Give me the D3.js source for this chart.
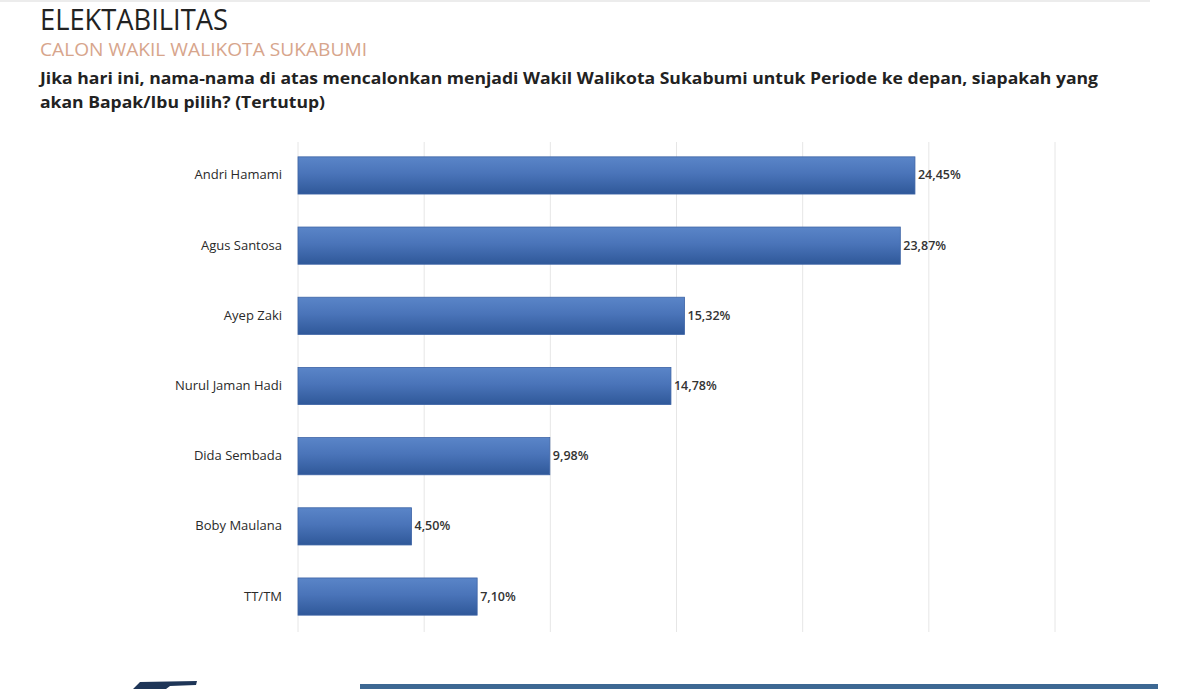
<!DOCTYPE html>
<html>
<head>
<meta charset="utf-8">
<script src="https://cdn.jsdelivr.net/npm/d3@7"></script>
<style>
  body { margin: 0; background: #fff; }
  svg { display: block; }
</style>
</head>
<body>
<svg id="chart" width="1200" height="689"></svg>
<script>
// ---------------- data ----------------
var candidates = ["Andri Hamami", "Agus Santosa", "Ayep Zaki", "Nurul Jaman Hadi", "Dida Sembada", "Boby Maulana", "TT/TM"];
var votes = [24.45, 23.87, 15.32, 14.78, 9.98, 4.50, 7.10];
var gridTicks = [0, 5, 10, 15, 20, 25, 30];

var TITLE = "ELEKTABILITAS";
var SUBTITLE = "CALON WAKIL WALIKOTA SUKABUMI";
var QUESTION = ["Jika hari ini, nama-nama di atas mencalonkan menjadi Wakil Walikota Sukabumi untuk Periode ke depan, siapakah yang",
                "akan Bapak/Ibu pilih? (Tertutup)"];

var svg = d3.select("#chart");
var FONT = "'Open Sans', 'Noto Sans', sans-serif";

// ---------------- header ----------------
svg.append("line")
  .attr("x1", 0).attr("x2", 1150).attr("y1", 1).attr("y2", 1)
  .style("stroke", "#ececec").style("stroke-width", 2);

svg.append("text")
  .text(TITLE)
  .attr("x", 40).attr("y", 30)
  .attr("textLength", 188).attr("lengthAdjust", "spacingAndGlyphs")
  .style("font-family", FONT)
  .style("font-size", "29px")
  .style("fill", "#222");

svg.append("text")
  .text(SUBTITLE)
  .attr("x", 40).attr("y", 56)
  .attr("textLength", 327).attr("lengthAdjust", "spacingAndGlyphs")
  .style("font-family", FONT)
  .style("font-size", "19px")
  .style("fill", "#d7a58c");

var qWidths = [1058, 285];
QUESTION.forEach(function(line, i){
  svg.append("text")
    .text(line)
    .attr("x", 40).attr("y", 84 + i * 24)
    .attr("textLength", qWidths[i]).attr("lengthAdjust", "spacingAndGlyphs")
    .style("font-family", FONT)
    .style("font-weight", "bold")
    .style("font-size", "15.5px")
    .style("fill", "#222");
});

// ---------------- chart ----------------
var x = d3.scaleLinear().domain([0, 30]).range([298, 1055]);
var y = d3.scaleBand().domain(candidates).range([140, 632]).paddingInner(0.47).paddingOuter(0.24);

var defs = svg.append("defs");
var grad = defs.append("linearGradient")
  .attr("id", "barGrad").attr("x1", 0).attr("x2", 0).attr("y1", 0).attr("y2", 1);
grad.append("stop").attr("offset", "0%").attr("stop-color", "#5a85c8");
grad.append("stop").attr("offset", "45%").attr("stop-color", "#4a74b9");
grad.append("stop").attr("offset", "100%").attr("stop-color", "#2f5899");

// grid
svg.append("g").attr("id", "grid")
  .selectAll("line")
  .data(gridTicks)
  .enter()
  .append("line")
  .attr("x1", function(d){ return x(d); })
  .attr("x2", function(d){ return x(d); })
  .attr("y1", 142).attr("y2", 632)
  .style("stroke", "#e6e6e6")
  .style("stroke-width", 1);

// bars
var bars = svg.append("g").attr("id", "bars");
bars.selectAll("rect")
  .data(candidates)
  .enter()
  .append("rect")
  .attr("x", x(0))
  .attr("y", function(d){ return y(d); })
  .attr("width", function(d, i){ return x(votes[i]) - x(0); })
  .attr("height", y.bandwidth())
  .style("fill", "url(#barGrad)")
  .style("stroke", "#3d64a6")
  .style("stroke-width", 0.8);

// category labels
svg.append("g").attr("id", "cats")
  .selectAll("text")
  .data(candidates)
  .enter()
  .append("text")
  .text(function(d){ return d; })
  .attr("x", 282)
  .attr("y", function(d){ return y(d) + y.bandwidth() / 2 + 4; })
  .style("text-anchor", "end")
  .style("font-family", FONT)
  .style("font-size", "13px")
  .style("font-weight", "500")
  .style("fill", "#2a2a2a");

// value labels
svg.append("g").attr("id", "values")
  .selectAll("text")
  .data(candidates)
  .enter()
  .append("text")
  .text(function(d, i){ return votes[i].toFixed(2).replace(".", ",") + "%"; })
  .attr("x", function(d, i){ return x(votes[i]) + 3; })
  .attr("y", function(d, i){ return y(d) + y.bandwidth() / 2 + 4; })
  .style("font-family", FONT)
  .style("font-size", "12.5px")
  .style("font-weight", "600")
  .style("fill", "#333");

// ---------------- footer ----------------
svg.append("rect")
  .attr("x", 360).attr("y", 684).attr("width", 798).attr("height", 6)
  .style("fill", "#3d6893");
svg.append("path")
  .attr("d", "M133,689 L140,682 L197,681 L196,685 L170,686 L166,689 Z")
  .style("fill", "#1e3557");
</script>
</body>
</html>
